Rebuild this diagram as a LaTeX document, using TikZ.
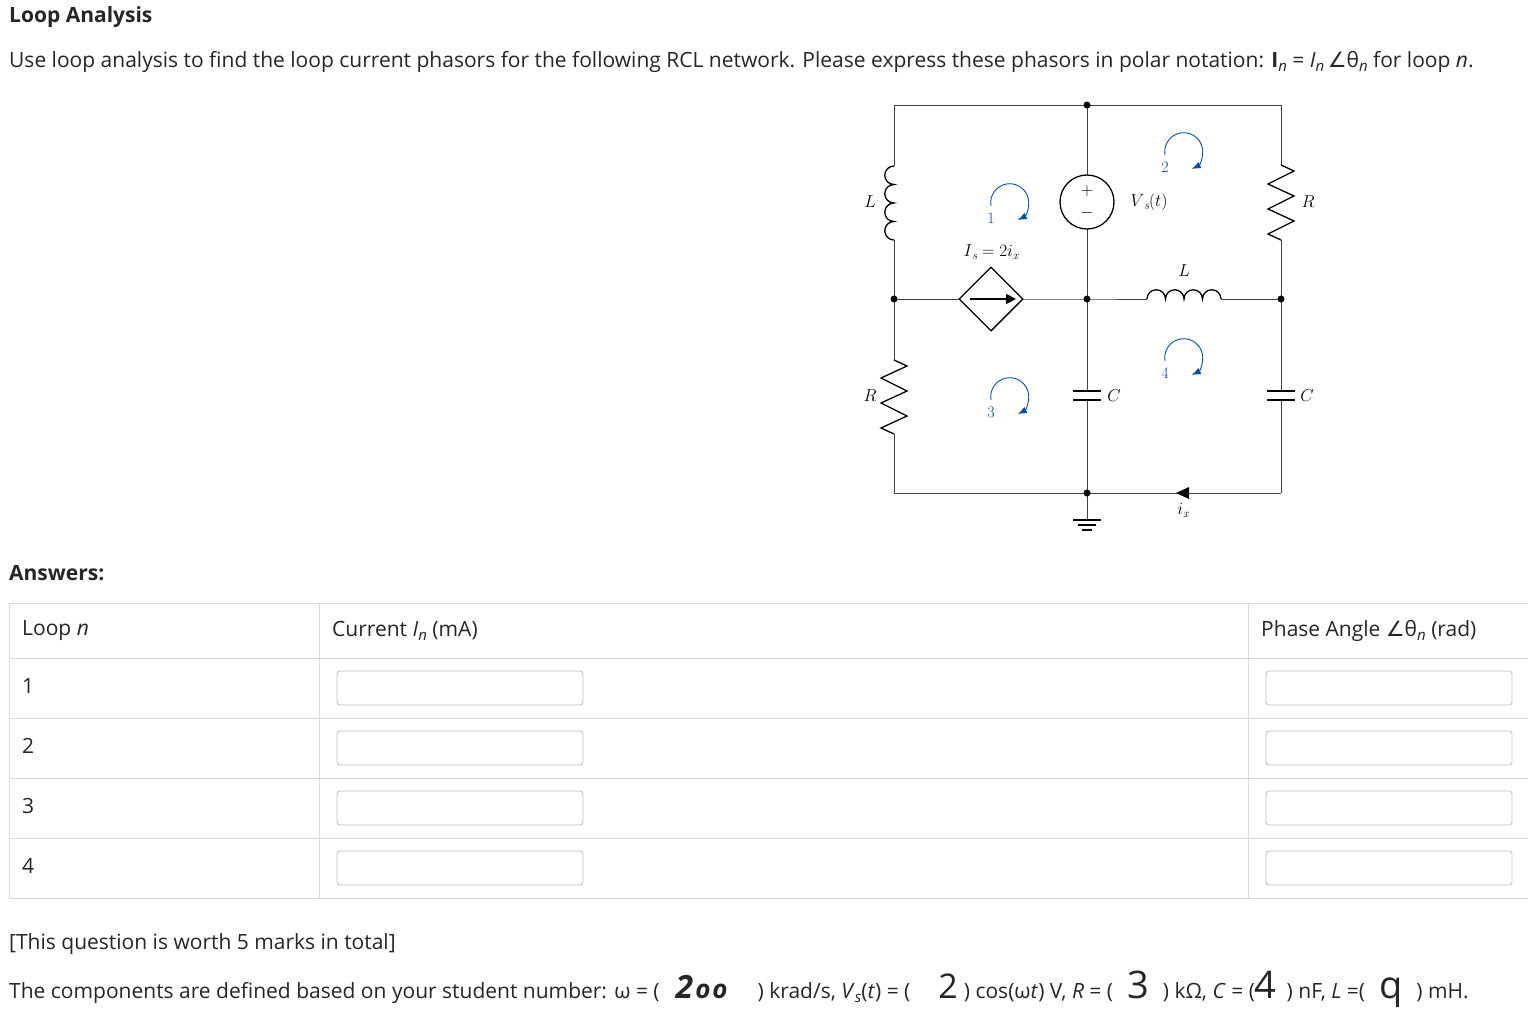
\documentclass[tikz,border=0pt]{standalone}
\usepackage[no-math]{fontspec}
\setmainfont{Open Sans}
\newfontfamily\djv{DejaVu Sans}
\newfontfamily\lmr{Latin Modern Roman}
\usetikzlibrary{arrows.meta}
\newcommand{\angsym}{{\djv ∠}}
\newcommand{\sbn}[1]{\raisebox{-4pt}{\fontsize{15}{15}\selectfont\itshape #1}}
\newcommand{\lsub}[1]{\raisebox{-3pt}{\fontsize{12}{12}\selectfont\lmr\itshape #1}}
\begin{document}
\begin{tikzpicture}[x=1pt,y=-1pt,
 wire/.style={draw=black!75,line width=0.9pt},
 comp/.style={draw=black,line width=1.3pt},
 dotn/.style={circle,fill=black,inner sep=0pt,minimum size=7pt},
 lab/.style={font=\fontsize{16}{18}\selectfont\lmr},
 loopn/.style={text=blue!60!black!70!cyan,font=\fontsize{16}{18}\selectfont\lmr},
 larc/.style={draw=blue!55!cyan!70!black,line width=0.9pt,-{Latex[length=9pt,width=7pt]}},
 grid/.style={draw=black!15,line width=0.8pt},
 box/.style={draw=black!25,rounded corners=3pt,line width=0.8pt},
 txt/.style={anchor=west,inner sep=0pt,font=\fontsize{21}{25}\selectfont}]
\useasboundingbox (0,0) rectangle (1528,1013);
\fill[white] (0,0) rectangle (1528,1013);
\node[txt,font=\fontsize{21}{25}\selectfont\bfseries,text=black!85] (t) at (9,17) {Loop Analysis};
\node[txt,text=black!85] (q) at (9,62) {Use loop analysis to find the loop current phasors for the following RCL network. Please express these phasors in polar notation: \textbf{I}\sbn{n} = \textit{I}\sbn{n}\,\angsym θ\sbn{n} for loop \textit{n}.};
\coordinate (TL) at (894,105); \coordinate (TM) at (1087,105); \coordinate (TR) at (1281,105);
\coordinate (ML) at (894,299); \coordinate (MM) at (1087,299); \coordinate (MR) at (1281,299);
\coordinate (BL) at (894,493); \coordinate (BM) at (1087,493); \coordinate (BR) at (1281,493);
\draw[wire] (TL) -- (TR);
% left upper inductor
\draw[wire] (TL) -- (894,166) (894,240) -- (ML);
\draw[comp] (894,166) arc[start angle=270,end angle=90,radius=9.25] arc[start angle=270,end angle=90,radius=9.25] arc[start angle=270,end angle=90,radius=9.25] arc[start angle=270,end angle=90,radius=9.25];
\node[lab] (lL) at (870,202) {$L$};
% voltage source
\draw[wire] (TM) -- (1087,175) (1087,229) -- (MM);
\node[circle,comp,minimum size=54pt,inner sep=0pt] (vs) at (1087,202) {};
\node[lab] (vp) at (1087,191) {$+$};
\node[lab] (vm) at (1087,213) {$-$};
\node[lab] (vl) at (1149,202) {$V$\lsub{s}$(t)$};
% right upper resistor
\draw[wire] (TR) -- (1281,165) (1281,240) -- (MR);
\draw[comp] (1281,165) -- (1294,171) -- (1268,184) -- (1294,196) -- (1268,209) -- (1294,221) -- (1268,234) -- (1281,240);
\node[lab] (rR) at (1308,202) {$R$};
% middle horizontal
\draw[wire] (ML) -- (959,299) (1023,299) -- (MM) -- (1147,299) (1221,299) -- (MR);
\node[draw,comp,minimum size=45pt,inner sep=0pt,rotate=45] (cs) at (991,299) {};
\draw[comp,line width=1.8pt,-{Triangle[length=10pt,width=10pt]}] (970,299) -- (1016,299);
\node[lab] (isl) at (991,252) {$I$\lsub{s}$\;=2i$\lsub{x}};
\draw[comp] (1147,299) arc[start angle=180,end angle=360,radius=9.25] arc[start angle=180,end angle=360,radius=9.25] arc[start angle=180,end angle=360,radius=9.25] arc[start angle=180,end angle=360,radius=9.25];
\node[lab] (lL2) at (1184,271) {$L$};
% lower left resistor
\draw[wire] (ML) -- (894,360) (894,434) -- (BL);
\draw[comp] (894,360) -- (907,366) -- (881,378) -- (907,391) -- (881,403) -- (907,416) -- (881,428) -- (894,434);
\node[lab] (rL) at (870,396) {$R$};
% middle capacitor
\draw[wire] (MM) -- (1087,391) (1087,400) -- (BM);
\draw[comp] (1073,391) -- (1101,391) (1073,400) -- (1101,400);
\node[lab] (cm) at (1114,396) {$C$};
% right capacitor
\draw[wire] (MR) -- (1281,391) (1281,400) -- (BR);
\draw[comp] (1267,391) -- (1295,391) (1267,400) -- (1295,400);
\node[lab] (cr) at (1307,396) {$C$};
% bottom wire
\draw[wire] (BL) -- (BR);
\fill (1176,493) -- (1189,487) -- (1189,499) -- cycle;
\node[lab] (ix) at (1183,510) {$i$\lsub{x}};
% ground
\draw[wire] (BM) -- (1087,520);
\draw[comp] (1073,520) -- (1101,520) (1078,525) -- (1096,525) (1082,530) -- (1092,530);
\foreach \p in {TM,ML,MM,MR,BM} \node[dotn] at (\p) {};
% loop markers
\foreach \cx/\cy/\n in {1010/203/1,1184/152/2,1010/397/3,1184/358/4}{
 \draw[larc] (\cx-19,\cy+3) arc[start angle=170,end angle=425,radius=19];
 \node[loopn] at (\cx-19,\cy+15) {\n};
}
% answers
\node[txt,font=\fontsize{21}{25}\selectfont\bfseries,text=black!85] (ans) at (9,573) {Answers:};
\foreach \y in {603,658,718,778,838,898} \draw[grid] (9,\y) -- (1528,\y);
\foreach \x in {9,319,1248} \draw[grid] (\x,603) -- (\x,898);
\node[txt,text=black!85] (h1) at (22,631) {Loop \textit{n}};
\node[txt,text=black!85] (h2) at (332,631) {Current \textit{I}\sbn{n} (mA)};
\node[txt,text=black!85] (h3) at (1261,631) {Phase Angle \angsym θ\sbn{n} (rad)};
\foreach \y/\n in {688/1,748/2,808/3,868/4}{
 \node[txt,text=black!85] at (22,\y-2) {\n};
 \draw[box] (337,\y-17) rectangle (583,\y+17);
 \draw[box] (1266,\y-17) rectangle (1512,\y+17);
}
\node[txt,text=black!85] (w) at (9,944) {[This question is worth 5 marks in total]};
\node[txt,text=black!85] (def) at (9,989) {The components are defined based on your student number: ω = (\hspace{16pt}{\fontsize{32}{32}\selectfont\itshape\bfseries 2\hspace{2pt}\fontsize{26}{26}\selectfont o\hspace{2pt}o}\hspace{30pt}) krad/s, \textit{V}\sbn{s}(\textit{t}) = (\hspace{28pt}{\fontsize{34}{34}\selectfont 2}\hspace{6pt}) cos(ω\textit{t}) V, \textit{R} = (\hspace{14pt}{\fontsize{38}{38}\selectfont 3}\hspace{14pt}) kΩ, \textit{C} = ({\fontsize{38}{38}\selectfont 4}\hspace{10pt}) nF, \textit{L} =(\hspace{14pt}{\fontsize{38}{38}\selectfont q}\hspace{14pt}) mH.};
\end{tikzpicture}
\end{document}
